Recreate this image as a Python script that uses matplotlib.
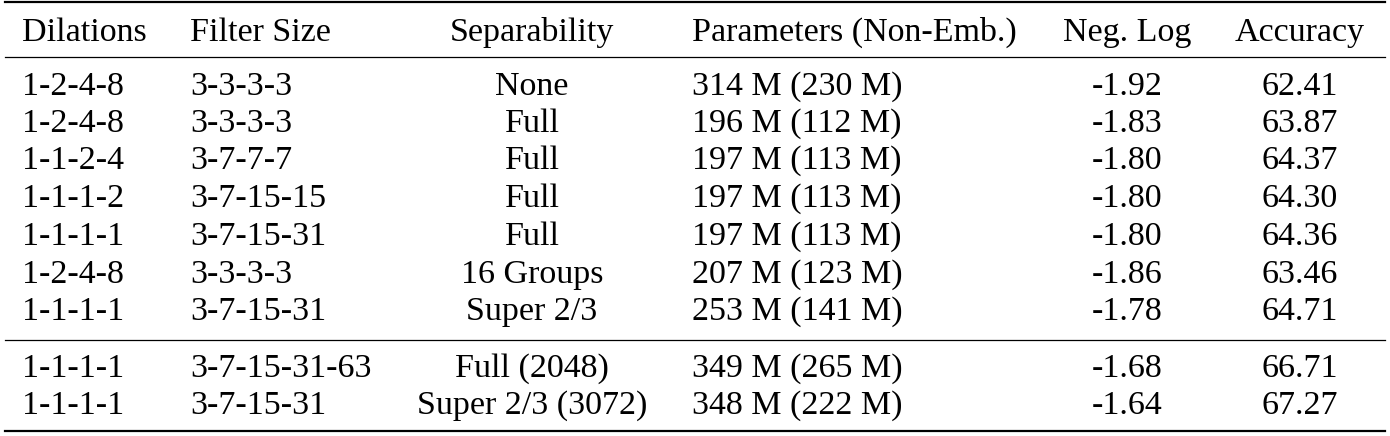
import matplotlib
matplotlib.use("Agg")
import matplotlib.pyplot as plt

headers = ["Dilations", "Filter Size", "Separability", "Parameters (Non-Emb.)", "Neg. Log", "Accuracy"]
dilations = ["1-2-4-8", "1-2-4-8", "1-1-2-4", "1-1-1-2", "1-1-1-1", "1-2-4-8", "1-1-1-1", "1-1-1-1", "1-1-1-1"]
filters = ["3-3-3-3", "3-3-3-3", "3-7-7-7", "3-7-15-15", "3-7-15-31", "3-3-3-3", "3-7-15-31", "3-7-15-31-63", "3-7-15-31"]
separability = ["None", "Full", "Full", "Full", "Full", "16 Groups", "Super 2/3", "Full (2048)", "Super 2/3 (3072)"]
params = ["314 M (230 M)", "196 M (112 M)", "197 M (113 M)", "197 M (113 M)", "197 M (113 M)", "207 M (123 M)", "253 M (141 M)", "349 M (265 M)", "348 M (222 M)"]
neglog = [-1.92, -1.83, -1.80, -1.80, -1.80, -1.86, -1.78, -1.68, -1.64]
accuracy = [62.41, 63.87, 64.37, 64.30, 64.36, 63.46, 64.71, 66.71, 67.27]

W, H = 1390, 436
fig = plt.figure(figsize=(W/100, H/100), dpi=100)
ax = fig.add_axes([0, 0, 1, 1])
ax.set_xlim(0, W); ax.set_ylim(H, 0); ax.axis("off")
font = dict(family="Liberation Serif", fontsize=24.5, va="center_baseline")

cols = [(22, "left"), (190, "left"), (532, "center"), (692, "left"), (1127, "center"), (1300, "center")]
for (x, ha), h in zip(cols, headers):
    ax.text(x, 29, h, ha=ha, **font)

row_y = [83, 120, 157, 195, 233, 271, 308, 365, 402]
for i, y in enumerate(row_y):
    vals = [dilations[i], filters[i], separability[i], params[i], f"{neglog[i]:.2f}", f"{accuracy[i]:.2f}"]
    for (x, ha), v in zip(cols, vals):
        ax.text(x, y, v, ha=ha, **font)

ax.plot([5, 1385], [2, 2], color="black", lw=1.6)
ax.plot([5, 1385], [57, 57], color="black", lw=0.9)
ax.plot([5, 1385], [340, 340], color="black", lw=0.9)
ax.plot([5, 1385], [431, 431], color="black", lw=1.6)

fig.savefig("out.png", dpi=100)
